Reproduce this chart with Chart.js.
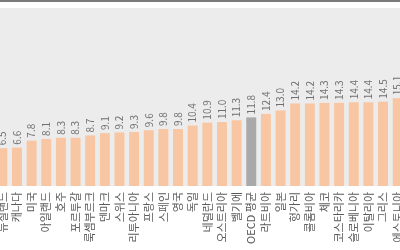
<!DOCTYPE html>
<html>
<head>
<meta charset="utf-8">
<script src="https://cdn.jsdelivr.net/npm/chart.js@4/dist/chart.umd.min.js"></script>
<style>
  html, body { margin: 0; padding: 0; background: #fff; }
  body { width: 400px; height: 250px; overflow: hidden; position: relative; }
  #topLine { position: absolute; left: 0; top: 0; width: 400px; height: 2px; background: #7b7b7b; }
  #wrap { position: absolute; left: -5px; top: 0; width: 410px; height: 250px; }
</style>
</head>
<body>
<div id="topLine"></div>
<div id="wrap"><canvas id="chart"></canvas></div>
<script>
// Chart data
const countries = ["뉴질랜드", "캐나다", "미국", "아일랜드", "호주", "포르투갈", "룩셈부르크", "덴마크",
    "스위스", "리투아니아", "프랑스", "스페인", "영국", "독일", "네덜란드", "오스트리아", "벨기에",
    "OECD 평균", "라트비아", "일본", "헝가리", "콜롬비아", "체코", "코스타리카", "슬로베니아",
    "이탈리아", "그리스", "에스토니아"];
const values = [6.5, 6.6, 7.8, 8.1, 8.3, 8.3, 8.7, 9.1, 9.2, 9.3, 9.6, 9.8, 9.8, 10.4, 10.9, 11.0, 11.3,
    11.8, 12.4, 13.0, 14.2, 14.2, 14.3, 14.3, 14.4, 14.4, 14.5, 15.1];
const highlight = "OECD 평균";
const yMin = 0;
const yMax = 32;

const FONT = '"Noto Sans CJK KR", "Noto Sans", sans-serif';

// Grey plot background
const plotBackground = {
    id: "plotBackground",
    beforeDraw(chart) {
        const { ctx, chartArea } = chart;
        ctx.save();
        ctx.fillStyle = "#ececec";
        ctx.fillRect(0, 8, chart.width, chartArea.bottom - 8);
        ctx.restore();
    }
};

// Rotated value labels above the bars
const valueLabels = {
    id: "valueLabels",
    afterDatasetsDraw(chart) {
        const ctx = chart.ctx;
        const meta = chart.getDatasetMeta(0);
        ctx.save();
        ctx.font = "10px " + FONT;
        ctx.fillStyle = "#707070";
        ctx.textAlign = "left";
        ctx.textBaseline = "middle";
        meta.data.forEach((bar, i) => {
            ctx.save();
            ctx.translate(bar.x, bar.y - 3);
            ctx.rotate(-Math.PI / 2);
            ctx.fillText(values[i].toFixed(1), 0, 0);
            ctx.restore();
        });
        ctx.restore();
    }
};

new Chart(document.getElementById("chart"), {
    type: "bar",
    data: {
        labels: countries,
        datasets: [{
            data: values,
            backgroundColor: countries.map(c => c === highlight ? "#a9a9a9" : "#f8c6a2"),
            barPercentage: 0.68,
            categoryPercentage: 1
        }]
    },
    options: {
        responsive: true,
        maintainAspectRatio: false,
        animation: false,
        layout: { padding: 0 },
        plugins: {
            legend: { display: false },
            tooltip: { enabled: false }
        },
        scales: {
            x: {
                grid: { display: false, drawTicks: false },
                border: { display: false },
                ticks: {
                    autoSkip: false,
                    minRotation: 90,
                    maxRotation: 90,
                    padding: 6,
                    color: "#5a5a5a",
                    font: { size: 11, family: FONT }
                },
                afterFit(scale) {
                    scale.height = 64;
                    scale.paddingLeft = 0;
                    scale.paddingRight = 0;
                }
            },
            y: {
                display: false,
                min: yMin,
                max: yMax
            }
        }
    },
    plugins: [plotBackground, valueLabels]
});
</script>
</body>
</html>
